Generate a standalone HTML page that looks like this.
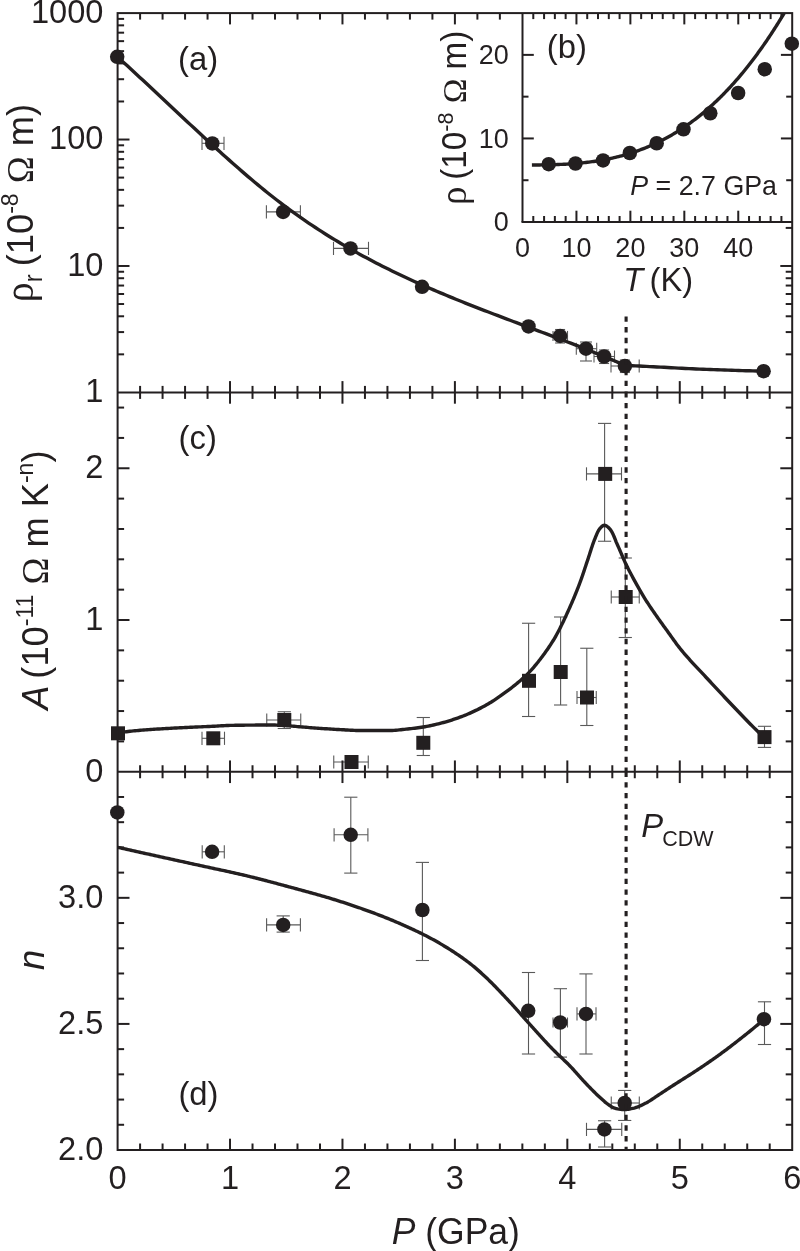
<!DOCTYPE html>
<html lang="en">
<head>
<meta charset="utf-8">
<title>Figure</title>
<style>html,body{margin:0;padding:0;background:#fff;}svg{display:block;}</style>
</head>
<body>
<svg width="800" height="1251" viewBox="0 0 800 1251" font-family="'Liberation Sans', Arial, Helvetica, sans-serif" fill="#231f20">
<rect x="0" y="0" width="800" height="1251" fill="#ffffff"/>
<line x1="202" y1="143.3" x2="224" y2="143.3" stroke="#595959" stroke-width="1.1"/>
<line x1="202" y1="136.7" x2="202" y2="149.9" stroke="#595959" stroke-width="1.1"/>
<line x1="224" y1="136.7" x2="224" y2="149.9" stroke="#595959" stroke-width="1.1"/>
<line x1="266.4" y1="211.9" x2="300.4" y2="211.9" stroke="#595959" stroke-width="1.1"/>
<line x1="266.4" y1="205.3" x2="266.4" y2="218.5" stroke="#595959" stroke-width="1.1"/>
<line x1="300.4" y1="205.3" x2="300.4" y2="218.5" stroke="#595959" stroke-width="1.1"/>
<line x1="333.5" y1="248.4" x2="368.5" y2="248.4" stroke="#595959" stroke-width="1.1"/>
<line x1="333.5" y1="241.8" x2="333.5" y2="255" stroke="#595959" stroke-width="1.1"/>
<line x1="368.5" y1="241.8" x2="368.5" y2="255" stroke="#595959" stroke-width="1.1"/>
<line x1="553" y1="335.9" x2="567.5" y2="335.9" stroke="#595959" stroke-width="1.1"/>
<line x1="553" y1="330.9" x2="553" y2="340.9" stroke="#595959" stroke-width="1.1"/>
<line x1="567.5" y1="330.9" x2="567.5" y2="340.9" stroke="#595959" stroke-width="1.1"/>
<line x1="560.1" y1="329.5" x2="560.1" y2="343" stroke="#595959" stroke-width="1.1"/>
<line x1="555.1" y1="329.5" x2="565.1" y2="329.5" stroke="#595959" stroke-width="1.1"/>
<line x1="555.1" y1="343" x2="565.1" y2="343" stroke="#595959" stroke-width="1.1"/>
<line x1="576.3" y1="348.7" x2="596.7" y2="348.7" stroke="#595959" stroke-width="1.1"/>
<line x1="576.3" y1="342.7" x2="576.3" y2="354.7" stroke="#595959" stroke-width="1.1"/>
<line x1="596.7" y1="342.7" x2="596.7" y2="354.7" stroke="#595959" stroke-width="1.1"/>
<line x1="586" y1="342" x2="586" y2="361" stroke="#595959" stroke-width="1.1"/>
<line x1="580" y1="342" x2="592" y2="342" stroke="#595959" stroke-width="1.1"/>
<line x1="580" y1="361" x2="592" y2="361" stroke="#595959" stroke-width="1.1"/>
<line x1="594" y1="356.5" x2="614.5" y2="356.5" stroke="#595959" stroke-width="1.1"/>
<line x1="594" y1="350.5" x2="594" y2="362.5" stroke="#595959" stroke-width="1.1"/>
<line x1="614.5" y1="350.5" x2="614.5" y2="362.5" stroke="#595959" stroke-width="1.1"/>
<line x1="604.1" y1="350" x2="604.1" y2="363.5" stroke="#595959" stroke-width="1.1"/>
<line x1="599.1" y1="350" x2="609.1" y2="350" stroke="#595959" stroke-width="1.1"/>
<line x1="599.1" y1="363.5" x2="609.1" y2="363.5" stroke="#595959" stroke-width="1.1"/>
<line x1="611" y1="366" x2="639.2" y2="366" stroke="#595959" stroke-width="1.1"/>
<line x1="611" y1="359.6" x2="611" y2="372.4" stroke="#595959" stroke-width="1.1"/>
<line x1="639.2" y1="359.6" x2="639.2" y2="372.4" stroke="#595959" stroke-width="1.1"/>
<line x1="624.9" y1="360" x2="624.9" y2="372.5" stroke="#595959" stroke-width="1.1"/>
<line x1="619.9" y1="360" x2="629.9" y2="360" stroke="#595959" stroke-width="1.1"/>
<line x1="619.9" y1="372.5" x2="629.9" y2="372.5" stroke="#595959" stroke-width="1.1"/>
<line x1="763.6" y1="366.5" x2="763.6" y2="376.5" stroke="#595959" stroke-width="1.1"/>
<line x1="758.6" y1="366.5" x2="768.6" y2="366.5" stroke="#595959" stroke-width="1.1"/>
<line x1="758.6" y1="376.5" x2="768.6" y2="376.5" stroke="#595959" stroke-width="1.1"/>
<path d="M117.5,56.81 L120.69,59.72 L123.88,62.64 L127.08,65.57 L130.27,68.51 L133.46,71.46 L136.65,74.42 L139.84,77.38 L143.03,80.35 L146.23,83.32 L149.42,86.3 L152.61,89.28 L155.8,92.27 L158.99,95.26 L162.19,98.25 L165.38,101.24 L168.57,104.23 L171.76,107.22 L174.95,110.21 L178.14,113.2 L181.34,116.18 L184.53,119.17 L187.72,122.14 L190.91,125.12 L194.1,128.08 L197.3,131.04 L200.49,134 L203.68,136.94 L206.87,139.88 L210.06,142.81 L213.25,145.72 L216.45,148.63 L219.64,151.53 L222.83,154.41 L226.02,157.27 L229.21,160.13 L232.41,162.96 L235.6,165.78 L238.79,168.57 L241.98,171.35 L245.17,174.11 L248.36,176.84 L251.56,179.55 L254.75,182.24 L257.94,184.9 L261.13,187.53 L264.32,190.13 L267.52,192.71 L270.71,195.25 L273.9,197.76 L277.09,200.24 L280.28,202.69 L283.47,205.1 L286.67,207.48 L289.86,209.83 L293.05,212.15 L296.24,214.44 L299.43,216.7 L302.63,218.93 L305.82,221.12 L309.01,223.29 L312.2,225.43 L315.39,227.54 L318.58,229.63 L321.78,231.68 L324.97,233.71 L328.16,235.72 L331.35,237.7 L334.54,239.65 L337.74,241.57 L340.93,243.48 L344.12,245.36 L347.31,247.21 L350.5,249.04 L353.69,250.85 L356.89,252.63 L360.08,254.4 L363.27,256.14 L366.46,257.86 L369.65,259.56 L372.85,261.24 L376.04,262.9 L379.23,264.54 L382.42,266.16 L385.61,267.76 L388.81,269.35 L392,270.92 L395.19,272.47 L398.38,274 L401.57,275.52 L404.76,277.02 L407.96,278.5 L411.15,279.97 L414.34,281.43 L417.53,282.87 L420.72,284.3 L423.92,285.71 L427.11,287.11 L430.3,288.5 L433.49,289.88 L436.68,291.24 L439.87,292.59 L443.07,293.93 L446.26,295.27 L449.45,296.59 L452.64,297.9 L455.83,299.2 L459.03,300.49 L462.22,301.77 L465.41,303.05 L468.6,304.32 L471.79,305.58 L474.98,306.83 L478.18,308.08 L481.37,309.32 L484.56,310.55 L487.75,311.78 L490.94,313.01 L494.14,314.23 L497.33,315.44 L500.52,316.65 L503.71,317.86 L506.9,319.07 L510.09,320.27 L513.29,321.47 L516.48,322.67 L519.67,323.87 L522.86,325.07 L526.05,326.27 L529.25,327.46 L532.44,328.66 L535.63,329.86 L538.82,331.06 L542.01,332.26 L545.2,333.46 L548.4,334.67 L551.59,335.88 L554.78,337.09 L557.97,338.31 L561.16,339.53 L564.36,340.75 L567.55,341.98 L570.74,343.21 L573.93,344.45 L577.12,345.7 L580.31,346.95 L583.51,348.21 L586.7,349.48 L589.89,350.75 L593.08,352.04 L596.27,353.33 L599.47,354.63 L602.66,355.94 L605.85,357.26 L609.04,358.59 L612.23,359.93 L615.42,361.28 L618.62,362.65 L621.81,364.02 L625,365.41 L628.55,365.57 L632.11,365.73 L635.66,365.89 L639.22,366.06 L642.77,366.23 L646.32,366.41 L649.88,366.58 L653.43,366.76 L656.98,366.95 L660.54,367.13 L664.09,367.32 L667.65,367.51 L671.2,367.71 L674.75,367.91 L678.31,368.11 L681.86,368.3 L685.42,368.48 L688.97,368.65 L692.52,368.81 L696.08,368.96 L699.63,369.11 L703.18,369.25 L706.74,369.38 L710.29,369.52 L713.85,369.65 L717.4,369.77 L720.95,369.9 L724.51,370.02 L728.06,370.14 L731.62,370.25 L735.17,370.37 L738.72,370.48 L742.28,370.59 L745.83,370.7 L749.38,370.81 L752.94,370.91 L756.49,371.01 L760.05,371.11 L763.6,371.2" fill="none" stroke="#231f20" stroke-width="3.4" stroke-linejoin="round"/>
<circle cx="117.2" cy="56.8" r="7.25" fill="#231f20"/>
<circle cx="212.3" cy="143.4" r="7.25" fill="#231f20"/>
<circle cx="283.1" cy="211.9" r="7.25" fill="#231f20"/>
<circle cx="350.5" cy="248.4" r="7.25" fill="#231f20"/>
<circle cx="422.1" cy="286.8" r="7.25" fill="#231f20"/>
<circle cx="528.5" cy="326.4" r="7.25" fill="#231f20"/>
<circle cx="560.1" cy="335.9" r="7.25" fill="#231f20"/>
<circle cx="586" cy="348.7" r="7.25" fill="#231f20"/>
<circle cx="604.1" cy="356.5" r="7.25" fill="#231f20"/>
<circle cx="624.9" cy="366" r="7.25" fill="#231f20"/>
<circle cx="763.6" cy="371.2" r="7.25" fill="#231f20"/>
<line x1="202" y1="738.3" x2="224.5" y2="738.3" stroke="#595959" stroke-width="1.1"/>
<line x1="202" y1="731.7" x2="202" y2="744.9" stroke="#595959" stroke-width="1.1"/>
<line x1="224.5" y1="731.7" x2="224.5" y2="744.9" stroke="#595959" stroke-width="1.1"/>
<line x1="266.75" y1="720" x2="300.75" y2="720" stroke="#595959" stroke-width="1.1"/>
<line x1="266.75" y1="713.4" x2="266.75" y2="726.6" stroke="#595959" stroke-width="1.1"/>
<line x1="300.75" y1="713.4" x2="300.75" y2="726.6" stroke="#595959" stroke-width="1.1"/>
<line x1="284.3" y1="711.75" x2="284.3" y2="728.5" stroke="#595959" stroke-width="1.1"/>
<line x1="277.7" y1="711.75" x2="290.9" y2="711.75" stroke="#595959" stroke-width="1.1"/>
<line x1="277.7" y1="728.5" x2="290.9" y2="728.5" stroke="#595959" stroke-width="1.1"/>
<line x1="333.75" y1="762" x2="368.25" y2="762" stroke="#595959" stroke-width="1.1"/>
<line x1="333.75" y1="755.4" x2="333.75" y2="768.6" stroke="#595959" stroke-width="1.1"/>
<line x1="368.25" y1="755.4" x2="368.25" y2="768.6" stroke="#595959" stroke-width="1.1"/>
<line x1="423.3" y1="717.5" x2="423.3" y2="755.5" stroke="#595959" stroke-width="1.1"/>
<line x1="416.7" y1="717.5" x2="429.9" y2="717.5" stroke="#595959" stroke-width="1.1"/>
<line x1="416.7" y1="755.5" x2="429.9" y2="755.5" stroke="#595959" stroke-width="1.1"/>
<line x1="528.6" y1="623.25" x2="528.6" y2="716.5" stroke="#595959" stroke-width="1.1"/>
<line x1="522" y1="623.25" x2="535.2" y2="623.25" stroke="#595959" stroke-width="1.1"/>
<line x1="522" y1="716.5" x2="535.2" y2="716.5" stroke="#595959" stroke-width="1.1"/>
<line x1="560.6" y1="617" x2="560.6" y2="705" stroke="#595959" stroke-width="1.1"/>
<line x1="554" y1="617" x2="567.2" y2="617" stroke="#595959" stroke-width="1.1"/>
<line x1="554" y1="705" x2="567.2" y2="705" stroke="#595959" stroke-width="1.1"/>
<line x1="586.8" y1="648.25" x2="586.8" y2="725.5" stroke="#595959" stroke-width="1.1"/>
<line x1="580.2" y1="648.25" x2="593.4" y2="648.25" stroke="#595959" stroke-width="1.1"/>
<line x1="580.2" y1="725.5" x2="593.4" y2="725.5" stroke="#595959" stroke-width="1.1"/>
<line x1="577" y1="697.5" x2="596.25" y2="697.5" stroke="#595959" stroke-width="1.1"/>
<line x1="577" y1="690.9" x2="577" y2="704.1" stroke="#595959" stroke-width="1.1"/>
<line x1="596.25" y1="690.9" x2="596.25" y2="704.1" stroke="#595959" stroke-width="1.1"/>
<line x1="604.6" y1="423.4" x2="604.6" y2="541.25" stroke="#595959" stroke-width="1.1"/>
<line x1="598" y1="423.4" x2="611.2" y2="423.4" stroke="#595959" stroke-width="1.1"/>
<line x1="598" y1="541.25" x2="611.2" y2="541.25" stroke="#595959" stroke-width="1.1"/>
<line x1="586.5" y1="473.9" x2="621.5" y2="473.9" stroke="#595959" stroke-width="1.1"/>
<line x1="586.5" y1="467.3" x2="586.5" y2="480.5" stroke="#595959" stroke-width="1.1"/>
<line x1="621.5" y1="467.3" x2="621.5" y2="480.5" stroke="#595959" stroke-width="1.1"/>
<line x1="625.3" y1="558" x2="625.3" y2="637.5" stroke="#595959" stroke-width="1.1"/>
<line x1="618.7" y1="558" x2="631.9" y2="558" stroke="#595959" stroke-width="1.1"/>
<line x1="618.7" y1="637.5" x2="631.9" y2="637.5" stroke="#595959" stroke-width="1.1"/>
<line x1="611.25" y1="597" x2="639.25" y2="597" stroke="#595959" stroke-width="1.1"/>
<line x1="611.25" y1="590.4" x2="611.25" y2="603.6" stroke="#595959" stroke-width="1.1"/>
<line x1="639.25" y1="590.4" x2="639.25" y2="603.6" stroke="#595959" stroke-width="1.1"/>
<line x1="764.5" y1="726.3" x2="764.5" y2="747.4" stroke="#595959" stroke-width="1.1"/>
<line x1="757.9" y1="726.3" x2="771.1" y2="726.3" stroke="#595959" stroke-width="1.1"/>
<line x1="757.9" y1="747.4" x2="771.1" y2="747.4" stroke="#595959" stroke-width="1.1"/>
<path d="M118,733.3 L119.69,732.92 L121.38,732.55 L123.08,732.21 L124.78,731.93 L126.49,731.71 L128.19,731.5 L129.91,731.3 L131.62,731.11 L133.34,730.93 L135.06,730.76 L136.78,730.6 L138.5,730.44 L140.23,730.29 L141.95,730.15 L143.68,730.01 L145.4,729.88 L147.13,729.76 L148.86,729.63 L150.59,729.51 L152.31,729.4 L154.04,729.28 L155.77,729.17 L157.5,729.06 L159.22,728.95 L160.94,728.84 L162.67,728.73 L164.39,728.63 L166.12,728.53 L167.84,728.43 L169.57,728.33 L171.3,728.23 L173.02,728.14 L174.75,728.05 L176.47,727.96 L178.2,727.87 L179.93,727.78 L181.65,727.7 L183.38,727.62 L185.11,727.53 L186.83,727.45 L188.56,727.37 L190.29,727.29 L192.01,727.21 L193.74,727.14 L195.47,727.06 L197.2,726.98 L198.92,726.9 L200.65,726.83 L202.38,726.75 L204.1,726.67 L205.83,726.59 L207.56,726.51 L209.29,726.43 L211.01,726.35 L212.74,726.27 L214.46,726.18 L216.19,726.08 L217.92,725.99 L219.64,725.9 L221.37,725.81 L223.1,725.72 L224.83,725.63 L226.55,725.56 L228.28,725.49 L230.01,725.42 L231.73,725.37 L233.46,725.33 L235.19,725.3 L236.92,725.27 L238.64,725.25 L240.37,725.23 L242.1,725.21 L243.83,725.18 L245.56,725.16 L247.29,725.15 L249.02,725.13 L250.74,725.11 L252.47,725.09 L254.2,725.08 L255.93,725.07 L257.66,725.05 L259.39,725.04 L261.12,725.03 L262.85,725.02 L264.58,725.02 L266.3,725.01 L268.03,725.01 L269.76,725 L271.49,725 L273.22,725 L274.94,725.04 L276.67,725.1 L278.4,725.19 L280.12,725.29 L281.85,725.4 L283.58,725.51 L285.3,725.62 L287.02,725.73 L288.75,725.86 L290.47,725.99 L292.19,726.14 L293.92,726.28 L295.64,726.43 L297.36,726.58 L299.08,726.73 L300.81,726.86 L302.53,727.01 L304.25,727.15 L305.98,727.29 L307.7,727.43 L309.42,727.57 L311.14,727.71 L312.87,727.84 L314.59,727.97 L316.32,728.09 L318.04,728.22 L319.76,728.34 L321.49,728.46 L323.21,728.58 L324.94,728.69 L326.66,728.81 L328.39,728.92 L330.11,729.03 L331.84,729.13 L333.56,729.24 L335.29,729.34 L337.02,729.44 L338.74,729.53 L340.47,729.62 L342.19,729.72 L343.92,729.82 L345.65,729.93 L347.37,730.03 L349.1,730.13 L350.83,730.23 L352.55,730.31 L354.28,730.38 L356.01,730.44 L357.73,730.48 L359.46,730.5 L361.19,730.5 L362.92,730.5 L364.65,730.5 L366.38,730.5 L368.11,730.5 L369.84,730.5 L371.57,730.5 L373.29,730.5 L375.02,730.5 L376.75,730.5 L378.48,730.5 L380.21,730.5 L381.94,730.5 L383.67,730.5 L385.4,730.5 L387.12,730.5 L388.85,730.5 L390.57,730.5 L392.3,730.46 L394.02,730.37 L395.75,730.25 L397.47,730.1 L399.19,729.93 L400.92,729.74 L402.64,729.54 L404.36,729.35 L406.08,729.15 L407.8,728.97 L409.51,728.79 L411.23,728.6 L412.95,728.4 L414.67,728.2 L416.39,727.98 L418.1,727.76 L419.82,727.52 L421.52,727.27 L423.23,727 L424.93,726.72 L426.63,726.41 L428.33,726.09 L430.02,725.74 L431.72,725.38 L433.41,725 L435.09,724.6 L436.78,724.2 L438.45,723.79 L440.13,723.37 L441.8,722.94 L443.47,722.49 L445.13,722.02 L446.8,721.54 L448.46,721.05 L450.11,720.54 L451.77,720.02 L453.41,719.48 L455.05,718.94 L456.69,718.38 L458.32,717.8 L459.94,717.22 L461.55,716.62 L463.16,716 L464.77,715.36 L466.37,714.7 L467.96,714.02 L469.55,713.32 L471.13,712.61 L472.7,711.89 L474.27,711.15 L475.83,710.41 L477.38,709.66 L478.93,708.89 L480.47,708.11 L482,707.31 L483.53,706.5 L485.05,705.67 L486.56,704.82 L488.07,703.96 L489.56,703.08 L491.04,702.19 L492.51,701.29 L493.97,700.37 L495.41,699.42 L496.84,698.46 L498.26,697.47 L499.68,696.47 L501.08,695.46 L502.48,694.44 L503.88,693.42 L505.27,692.4 L506.67,691.38 L508.06,690.35 L509.45,689.32 L510.83,688.28 L512.21,687.23 L513.58,686.17 L514.93,685.1 L516.28,684.01 L517.6,682.91 L518.93,681.8 L520.24,680.68 L521.55,679.54 L522.85,678.39 L524.14,677.23 L525.41,676.05 L526.66,674.86 L527.88,673.64 L529.08,672.41 L530.26,671.16 L531.43,669.89 L532.57,668.6 L533.71,667.3 L534.83,665.97 L535.94,664.64 L537.03,663.29 L538.11,661.94 L539.18,660.57 L540.24,659.2 L541.29,657.82 L542.32,656.44 L543.35,655.06 L544.37,653.66 L545.38,652.26 L546.38,650.85 L547.38,649.43 L548.36,648 L549.33,646.56 L550.29,645.12 L551.23,643.66 L552.16,642.2 L553.07,640.74 L553.97,639.26 L554.84,637.78 L555.69,636.29 L556.54,634.78 L557.36,633.27 L558.18,631.75 L558.98,630.22 L559.78,628.68 L560.56,627.14 L561.33,625.59 L562.1,624.03 L562.85,622.47 L563.6,620.91 L564.34,619.34 L565.07,617.77 L565.8,616.2 L566.52,614.63 L567.24,613.06 L567.96,611.49 L568.67,609.92 L569.38,608.34 L570.08,606.76 L570.77,605.18 L571.47,603.59 L572.15,602 L572.83,600.41 L573.51,598.82 L574.18,597.22 L574.84,595.62 L575.5,594.02 L576.15,592.42 L576.79,590.81 L577.43,589.21 L578.06,587.6 L578.68,585.99 L579.3,584.37 L579.9,582.76 L580.5,581.14 L581.09,579.51 L581.67,577.89 L582.23,576.25 L582.79,574.62 L583.34,572.98 L583.89,571.34 L584.44,569.7 L584.98,568.05 L585.52,566.41 L586.07,564.77 L586.61,563.13 L587.16,561.49 L587.72,559.85 L588.26,558.21 L588.8,556.56 L589.33,554.91 L589.85,553.26 L590.38,551.61 L590.91,549.96 L591.44,548.31 L591.99,546.67 L592.54,545.03 L593.12,543.4 L593.71,541.78 L594.32,540.18 L594.97,538.58 L595.62,536.96 L596.28,535.3 L596.98,533.64 L597.72,532.03 L598.53,530.51 L599.43,529.12 L600.48,527.86 L601.83,526.51 L603.34,525.47 L604.81,525.24 L606.35,525.87 L607.88,527.01 L609.21,528.29 L610.24,529.48 L611.17,530.79 L612.02,532.22 L612.81,533.75 L613.54,535.35 L614.24,537 L614.91,538.68 L615.57,540.37 L616.23,542.05 L616.92,543.69 L617.63,545.28 L618.34,546.85 L619.04,548.43 L619.73,550.02 L620.42,551.61 L621.09,553.2 L621.77,554.79 L622.45,556.38 L623.13,557.97 L623.83,559.56 L624.53,561.13 L625.25,562.7 L625.99,564.26 L626.75,565.81 L627.52,567.36 L628.29,568.9 L629.08,570.44 L629.88,571.98 L630.68,573.51 L631.5,575.04 L632.31,576.56 L633.14,578.08 L633.96,579.6 L634.79,581.12 L635.62,582.63 L636.46,584.15 L637.3,585.66 L638.15,587.17 L639,588.67 L639.86,590.17 L640.72,591.67 L641.6,593.16 L642.48,594.65 L643.37,596.13 L644.26,597.61 L645.17,599.08 L646.09,600.54 L647.02,601.99 L647.97,603.44 L648.92,604.88 L649.88,606.32 L650.85,607.75 L651.83,609.18 L652.8,610.61 L653.78,612.03 L654.76,613.46 L655.75,614.88 L656.73,616.3 L657.73,617.71 L658.73,619.12 L659.73,620.53 L660.74,621.94 L661.74,623.34 L662.76,624.74 L663.77,626.14 L664.78,627.54 L665.8,628.94 L666.81,630.34 L667.82,631.75 L668.83,633.15 L669.83,634.56 L670.83,635.97 L671.83,637.39 L672.84,638.8 L673.84,640.21 L674.85,641.61 L675.87,643.01 L676.9,644.4 L677.94,645.77 L679,647.14 L680.07,648.49 L681.15,649.82 L682.25,651.15 L683.35,652.47 L684.47,653.79 L685.6,655.1 L686.73,656.4 L687.87,657.69 L689.02,658.98 L690.18,660.27 L691.34,661.55 L692.51,662.82 L693.68,664.1 L694.86,665.37 L696.04,666.63 L697.22,667.9 L698.41,669.16 L699.6,670.42 L700.79,671.68 L701.98,672.94 L703.17,674.2 L704.35,675.46 L705.54,676.72 L706.72,677.98 L707.91,679.24 L709.08,680.51 L710.26,681.78 L711.43,683.05 L712.61,684.32 L713.78,685.59 L714.96,686.85 L716.13,688.12 L717.31,689.38 L718.49,690.65 L719.67,691.91 L720.85,693.18 L722.03,694.44 L723.21,695.7 L724.4,696.96 L725.58,698.22 L726.77,699.47 L727.96,700.73 L729.14,701.99 L730.34,703.24 L731.53,704.49 L732.72,705.74 L733.92,706.99 L735.11,708.24 L736.31,709.48 L737.51,710.73 L738.71,711.97 L739.9,713.22 L741.1,714.47 L742.29,715.72 L743.49,716.97 L744.69,718.22 L745.89,719.47 L747.09,720.72 L748.29,721.96 L749.5,723.2 L750.71,724.44 L751.92,725.67 L753.14,726.89 L754.37,728.11 L755.6,729.32 L756.84,730.53 L758.08,731.72 L759.34,732.91 L760.6,734.08 L761.88,735.24 L763.19,736.37 L764.5,737.5" fill="none" stroke="#231f20" stroke-width="3.4" stroke-linejoin="round" stroke-linecap="butt"/>
<rect x="111" y="726.3" width="14.0" height="14.0" fill="#231f20"/>
<rect x="206.3" y="731.3" width="14.0" height="14.0" fill="#231f20"/>
<rect x="277.3" y="713" width="14.0" height="14.0" fill="#231f20"/>
<rect x="344.5" y="755" width="14.0" height="14.0" fill="#231f20"/>
<rect x="416.3" y="735.8" width="14.0" height="14.0" fill="#231f20"/>
<rect x="522" y="673.8" width="14.0" height="14.0" fill="#231f20"/>
<rect x="553.7" y="665" width="14.0" height="14.0" fill="#231f20"/>
<rect x="580" y="690.5" width="14.0" height="14.0" fill="#231f20"/>
<rect x="598.2" y="466.9" width="14.0" height="14.0" fill="#231f20"/>
<rect x="618.7" y="590" width="14.0" height="14.0" fill="#231f20"/>
<rect x="757.5" y="730.1" width="14.0" height="14.0" fill="#231f20"/>
<line x1="202.2" y1="851.8" x2="224.3" y2="851.8" stroke="#595959" stroke-width="1.1"/>
<line x1="202.2" y1="845.2" x2="202.2" y2="858.4" stroke="#595959" stroke-width="1.1"/>
<line x1="224.3" y1="845.2" x2="224.3" y2="858.4" stroke="#595959" stroke-width="1.1"/>
<line x1="266.6" y1="924.9" x2="300.4" y2="924.9" stroke="#595959" stroke-width="1.1"/>
<line x1="266.6" y1="918.3" x2="266.6" y2="931.5" stroke="#595959" stroke-width="1.1"/>
<line x1="300.4" y1="918.3" x2="300.4" y2="931.5" stroke="#595959" stroke-width="1.1"/>
<line x1="283.2" y1="915.9" x2="283.2" y2="932.1" stroke="#595959" stroke-width="1.1"/>
<line x1="276.6" y1="915.9" x2="289.8" y2="915.9" stroke="#595959" stroke-width="1.1"/>
<line x1="276.6" y1="932.1" x2="289.8" y2="932.1" stroke="#595959" stroke-width="1.1"/>
<line x1="334.1" y1="834.8" x2="367.9" y2="834.8" stroke="#595959" stroke-width="1.1"/>
<line x1="334.1" y1="828.2" x2="334.1" y2="841.4" stroke="#595959" stroke-width="1.1"/>
<line x1="367.9" y1="828.2" x2="367.9" y2="841.4" stroke="#595959" stroke-width="1.1"/>
<line x1="350.8" y1="797.2" x2="350.8" y2="873.1" stroke="#595959" stroke-width="1.1"/>
<line x1="344.2" y1="797.2" x2="357.4" y2="797.2" stroke="#595959" stroke-width="1.1"/>
<line x1="344.2" y1="873.1" x2="357.4" y2="873.1" stroke="#595959" stroke-width="1.1"/>
<line x1="422.4" y1="862.4" x2="422.4" y2="960.5" stroke="#595959" stroke-width="1.1"/>
<line x1="415.8" y1="862.4" x2="429" y2="862.4" stroke="#595959" stroke-width="1.1"/>
<line x1="415.8" y1="960.5" x2="429" y2="960.5" stroke="#595959" stroke-width="1.1"/>
<line x1="528.5" y1="972.5" x2="528.5" y2="1054" stroke="#595959" stroke-width="1.1"/>
<line x1="521.9" y1="972.5" x2="535.1" y2="972.5" stroke="#595959" stroke-width="1.1"/>
<line x1="521.9" y1="1054" x2="535.1" y2="1054" stroke="#595959" stroke-width="1.1"/>
<line x1="560.4" y1="988.7" x2="560.4" y2="1057.1" stroke="#595959" stroke-width="1.1"/>
<line x1="553.8" y1="988.7" x2="567" y2="988.7" stroke="#595959" stroke-width="1.1"/>
<line x1="553.8" y1="1057.1" x2="567" y2="1057.1" stroke="#595959" stroke-width="1.1"/>
<line x1="553" y1="1022.5" x2="567.5" y2="1022.5" stroke="#595959" stroke-width="1.1"/>
<line x1="553" y1="1017.5" x2="553" y2="1027.5" stroke="#595959" stroke-width="1.1"/>
<line x1="567.5" y1="1017.5" x2="567.5" y2="1027.5" stroke="#595959" stroke-width="1.1"/>
<line x1="586" y1="973.9" x2="586" y2="1054" stroke="#595959" stroke-width="1.1"/>
<line x1="579.4" y1="973.9" x2="592.6" y2="973.9" stroke="#595959" stroke-width="1.1"/>
<line x1="579.4" y1="1054" x2="592.6" y2="1054" stroke="#595959" stroke-width="1.1"/>
<line x1="577" y1="1013.9" x2="596" y2="1013.9" stroke="#595959" stroke-width="1.1"/>
<line x1="577" y1="1007.3" x2="577" y2="1020.5" stroke="#595959" stroke-width="1.1"/>
<line x1="596" y1="1007.3" x2="596" y2="1020.5" stroke="#595959" stroke-width="1.1"/>
<line x1="586.5" y1="1129.4" x2="621.75" y2="1129.4" stroke="#595959" stroke-width="1.1"/>
<line x1="586.5" y1="1122.8" x2="586.5" y2="1136" stroke="#595959" stroke-width="1.1"/>
<line x1="621.75" y1="1122.8" x2="621.75" y2="1136" stroke="#595959" stroke-width="1.1"/>
<line x1="604.6" y1="1120.75" x2="604.6" y2="1147" stroke="#595959" stroke-width="1.1"/>
<line x1="598" y1="1120.75" x2="611.2" y2="1120.75" stroke="#595959" stroke-width="1.1"/>
<line x1="598" y1="1147" x2="611.2" y2="1147" stroke="#595959" stroke-width="1.1"/>
<line x1="624.7" y1="1090.45" x2="624.7" y2="1120.45" stroke="#595959" stroke-width="1.1"/>
<line x1="618.1" y1="1090.45" x2="631.3" y2="1090.45" stroke="#595959" stroke-width="1.1"/>
<line x1="618.1" y1="1120.45" x2="631.3" y2="1120.45" stroke="#595959" stroke-width="1.1"/>
<line x1="611.25" y1="1103" x2="639.3" y2="1103" stroke="#595959" stroke-width="1.1"/>
<line x1="611.25" y1="1096.4" x2="611.25" y2="1109.6" stroke="#595959" stroke-width="1.1"/>
<line x1="639.3" y1="1096.4" x2="639.3" y2="1109.6" stroke="#595959" stroke-width="1.1"/>
<line x1="764.5" y1="1001.8" x2="764.5" y2="1044.5" stroke="#595959" stroke-width="1.1"/>
<line x1="757.9" y1="1001.8" x2="771.1" y2="1001.8" stroke="#595959" stroke-width="1.1"/>
<line x1="757.9" y1="1044.5" x2="771.1" y2="1044.5" stroke="#595959" stroke-width="1.1"/>
<path d="M117.6,847.3 L119.08,847.63 L120.56,847.96 L122.04,848.29 L123.52,848.62 L124.99,848.95 L126.47,849.28 L127.95,849.6 L129.43,849.93 L130.91,850.26 L132.39,850.59 L133.87,850.92 L135.35,851.25 L136.83,851.58 L138.31,851.9 L139.78,852.23 L141.26,852.56 L142.74,852.89 L144.22,853.22 L145.7,853.54 L147.18,853.87 L148.66,854.2 L150.14,854.53 L151.62,854.85 L153.1,855.18 L154.58,855.51 L156.06,855.83 L157.54,856.16 L159.02,856.49 L160.5,856.81 L161.97,857.14 L163.45,857.47 L164.93,857.79 L166.41,858.12 L167.89,858.44 L169.37,858.77 L170.85,859.09 L172.33,859.42 L173.81,859.74 L175.29,860.07 L176.77,860.4 L178.25,860.72 L179.73,861.05 L181.21,861.37 L182.69,861.7 L184.17,862.02 L185.65,862.35 L187.13,862.67 L188.61,863 L190.09,863.32 L191.57,863.65 L193.05,863.97 L194.53,864.3 L196.01,864.62 L197.49,864.95 L198.97,865.27 L200.45,865.6 L201.93,865.92 L203.41,866.25 L204.89,866.57 L206.37,866.89 L207.85,867.21 L209.33,867.53 L210.81,867.84 L212.3,868.16 L213.78,868.48 L215.26,868.79 L216.74,869.11 L218.22,869.43 L219.71,869.75 L221.19,870.06 L222.67,870.38 L224.15,870.7 L225.63,871.02 L227.11,871.35 L228.59,871.67 L230.07,871.99 L231.55,872.32 L233.03,872.65 L234.51,872.98 L235.99,873.31 L237.46,873.65 L238.94,873.98 L240.42,874.32 L241.89,874.67 L243.37,875.01 L244.84,875.36 L246.31,875.71 L247.78,876.07 L249.26,876.43 L250.73,876.79 L252.2,877.15 L253.67,877.52 L255.14,877.89 L256.61,878.26 L258.07,878.63 L259.54,879 L261.01,879.38 L262.48,879.76 L263.94,880.14 L265.41,880.52 L266.88,880.9 L268.34,881.29 L269.81,881.68 L271.27,882.06 L272.74,882.45 L274.2,882.84 L275.67,883.23 L277.13,883.63 L278.59,884.02 L280.06,884.41 L281.52,884.81 L282.98,885.2 L284.45,885.6 L285.91,885.99 L287.37,886.39 L288.83,886.78 L290.3,887.18 L291.76,887.58 L293.22,887.97 L294.68,888.37 L296.15,888.76 L297.61,889.16 L299.07,889.55 L300.54,889.95 L302,890.34 L303.46,890.74 L304.93,891.14 L306.39,891.54 L307.85,891.94 L309.31,892.34 L310.77,892.74 L312.23,893.15 L313.69,893.56 L315.15,893.96 L316.61,894.37 L318.07,894.79 L319.53,895.2 L320.99,895.62 L322.44,896.04 L323.9,896.46 L325.35,896.89 L326.8,897.31 L328.25,897.74 L329.7,898.18 L331.15,898.62 L332.6,899.06 L334.05,899.5 L335.49,899.95 L336.94,900.41 L338.38,900.86 L339.83,901.32 L341.27,901.78 L342.71,902.24 L344.15,902.71 L345.6,903.17 L347.04,903.65 L348.48,904.12 L349.92,904.6 L351.36,905.08 L352.79,905.56 L354.23,906.05 L355.67,906.54 L357.1,907.03 L358.54,907.52 L359.97,908.02 L361.4,908.52 L362.83,909.03 L364.26,909.54 L365.69,910.05 L367.11,910.56 L368.54,911.08 L369.96,911.6 L371.38,912.13 L372.8,912.65 L374.22,913.19 L375.63,913.72 L377.05,914.26 L378.46,914.8 L379.87,915.35 L381.28,915.9 L382.68,916.45 L384.09,917.01 L385.5,917.57 L386.9,918.14 L388.31,918.7 L389.71,919.28 L391.11,919.85 L392.51,920.44 L393.91,921.02 L395.31,921.61 L396.71,922.2 L398.1,922.8 L399.5,923.4 L400.89,924.01 L402.28,924.61 L403.67,925.23 L405.06,925.84 L406.44,926.47 L407.83,927.09 L409.21,927.72 L410.59,928.35 L411.96,928.99 L413.34,929.63 L414.71,930.28 L416.08,930.93 L417.44,931.58 L418.81,932.24 L420.17,932.9 L421.52,933.57 L422.88,934.24 L424.23,934.91 L425.58,935.59 L426.93,936.28 L428.27,936.98 L429.61,937.68 L430.95,938.4 L432.28,939.12 L433.61,939.85 L434.94,940.58 L436.26,941.33 L437.58,942.08 L438.9,942.83 L440.21,943.6 L441.52,944.37 L442.82,945.14 L444.12,945.92 L445.41,946.71 L446.7,947.5 L447.98,948.3 L449.26,949.1 L450.54,949.91 L451.82,950.73 L453.09,951.55 L454.37,952.38 L455.63,953.22 L456.89,954.06 L458.15,954.92 L459.41,955.77 L460.66,956.64 L461.9,957.51 L463.14,958.39 L464.37,959.28 L465.59,960.17 L466.81,961.07 L468.01,961.98 L469.22,962.89 L470.41,963.82 L471.59,964.75 L472.77,965.7 L473.94,966.67 L475.1,967.64 L476.26,968.62 L477.41,969.62 L478.55,970.62 L479.68,971.63 L480.81,972.64 L481.93,973.66 L483.05,974.69 L484.16,975.72 L485.27,976.75 L486.37,977.79 L487.46,978.83 L488.55,979.88 L489.63,980.94 L490.71,982.01 L491.78,983.07 L492.85,984.15 L493.92,985.23 L494.98,986.31 L496.03,987.4 L497.09,988.49 L498.14,989.58 L499.19,990.68 L500.23,991.78 L501.28,992.88 L502.32,993.98 L503.36,995.09 L504.4,996.19 L505.43,997.3 L506.47,998.4 L507.51,999.51 L508.54,1000.61 L509.57,1001.72 L510.59,1002.84 L511.61,1003.96 L512.63,1005.08 L513.65,1006.2 L514.66,1007.33 L515.67,1008.46 L516.68,1009.59 L517.69,1010.72 L518.69,1011.86 L519.7,1012.99 L520.7,1014.12 L521.71,1015.26 L522.72,1016.39 L523.73,1017.52 L524.73,1018.65 L525.75,1019.78 L526.76,1020.91 L527.77,1022.03 L528.79,1023.15 L529.81,1024.28 L530.82,1025.4 L531.84,1026.53 L532.85,1027.65 L533.87,1028.78 L534.88,1029.91 L535.89,1031.04 L536.9,1032.17 L537.92,1033.29 L538.93,1034.42 L539.95,1035.54 L540.97,1036.67 L541.99,1037.79 L543.01,1038.91 L544.03,1040.03 L545.06,1041.14 L546.09,1042.25 L547.12,1043.36 L548.16,1044.46 L549.2,1045.56 L550.24,1046.66 L551.29,1047.75 L552.34,1048.84 L553.4,1049.92 L554.47,1050.99 L555.55,1052.05 L556.64,1053.1 L557.74,1054.15 L558.83,1055.2 L559.94,1056.24 L561.04,1057.28 L562.14,1058.32 L563.24,1059.37 L564.34,1060.41 L565.44,1061.46 L566.52,1062.51 L567.6,1063.58 L568.67,1064.65 L569.73,1065.73 L570.78,1066.82 L571.82,1067.92 L572.85,1069.03 L573.87,1070.15 L574.88,1071.28 L575.89,1072.41 L576.9,1073.54 L577.9,1074.68 L578.91,1075.81 L579.91,1076.95 L580.92,1078.08 L581.94,1079.2 L582.96,1080.32 L583.99,1081.43 L585.03,1082.53 L586.08,1083.63 L587.12,1084.72 L588.17,1085.82 L589.22,1086.91 L590.28,1088.01 L591.34,1089.09 L592.4,1090.18 L593.47,1091.25 L594.54,1092.32 L595.62,1093.38 L596.71,1094.44 L597.81,1095.48 L598.92,1096.51 L600.03,1097.53 L601.15,1098.55 L602.28,1099.57 L603.42,1100.59 L604.56,1101.6 L605.73,1102.57 L606.92,1103.51 L608.13,1104.41 L609.37,1105.25 L610.65,1106.11 L611.96,1106.95 L613.31,1107.68 L614.69,1108.22 L616.11,1108.56 L617.58,1108.88 L619.09,1109.15 L620.61,1109.37 L622.14,1109.53 L623.66,1109.6 L625.17,1109.57 L626.68,1109.44 L628.19,1109.23 L629.7,1108.97 L631.19,1108.68 L632.67,1108.37 L634.12,1108.04 L635.56,1107.62 L637,1107.12 L638.42,1106.57 L639.83,1105.97 L641.23,1105.33 L642.61,1104.67 L643.98,1104 L645.32,1103.34 L646.65,1102.65 L647.97,1101.91 L649.26,1101.14 L650.55,1100.33 L651.82,1099.51 L653.09,1098.66 L654.35,1097.81 L655.61,1096.94 L656.86,1096.08 L658.13,1095.23 L659.39,1094.39 L660.67,1093.57 L661.94,1092.75 L663.21,1091.92 L664.48,1091.09 L665.74,1090.26 L667.01,1089.43 L668.27,1088.6 L669.54,1087.76 L670.81,1086.93 L672.07,1086.1 L673.34,1085.27 L674.61,1084.45 L675.89,1083.63 L677.16,1082.81 L678.44,1082 L679.72,1081.19 L681,1080.38 L682.29,1079.57 L683.57,1078.76 L684.85,1077.96 L686.13,1077.15 L687.42,1076.34 L688.7,1075.53 L689.98,1074.72 L691.25,1073.91 L692.53,1073.09 L693.8,1072.27 L695.07,1071.44 L696.34,1070.61 L697.6,1069.77 L698.86,1068.93 L700.12,1068.09 L701.38,1067.25 L702.64,1066.4 L703.89,1065.55 L705.15,1064.7 L706.4,1063.85 L707.65,1062.99 L708.9,1062.13 L710.14,1061.27 L711.39,1060.4 L712.63,1059.54 L713.87,1058.66 L715.11,1057.79 L716.34,1056.91 L717.57,1056.03 L718.8,1055.14 L720.03,1054.26 L721.25,1053.36 L722.47,1052.47 L723.69,1051.57 L724.9,1050.66 L726.12,1049.76 L727.33,1048.85 L728.54,1047.93 L729.75,1047.02 L730.95,1046.1 L732.16,1045.18 L733.36,1044.25 L734.56,1043.33 L735.75,1042.4 L736.95,1041.47 L738.14,1040.53 L739.34,1039.6 L740.53,1038.66 L741.72,1037.73 L742.91,1036.79 L744.09,1035.85 L745.28,1034.9 L746.46,1033.96 L747.64,1033.01 L748.82,1032.06 L750,1031.11 L751.18,1030.15 L752.35,1029.19 L753.52,1028.24 L754.7,1027.27 L755.86,1026.31 L757.03,1025.34 L758.2,1024.38 L759.36,1023.4 L760.52,1022.43 L761.68,1021.46 L762.84,1020.48 L764,1019.5" fill="none" stroke="#231f20" stroke-width="3.4" stroke-linejoin="round" stroke-linecap="butt"/>
<circle cx="117.3" cy="812.4" r="7.25" fill="#231f20"/>
<circle cx="212.1" cy="851.8" r="7.25" fill="#231f20"/>
<circle cx="283.2" cy="924.9" r="7.25" fill="#231f20"/>
<circle cx="350.7" cy="834.8" r="7.25" fill="#231f20"/>
<circle cx="422.4" cy="910" r="7.25" fill="#231f20"/>
<circle cx="528.2" cy="1010.8" r="7.25" fill="#231f20"/>
<circle cx="560.2" cy="1022.5" r="7.25" fill="#231f20"/>
<circle cx="586" cy="1013.9" r="7.25" fill="#231f20"/>
<circle cx="604.4" cy="1129.4" r="7.25" fill="#231f20"/>
<circle cx="624.7" cy="1103" r="7.25" fill="#231f20"/>
<circle cx="763.95" cy="1019.2" r="7.25" fill="#231f20"/>
<line x1="626.1" y1="316.4" x2="626.1" y2="392.4" stroke="#231f20" stroke-width="3.1" stroke-dasharray="5.3 5.42"/>
<line x1="626.1" y1="392.3" x2="626.1" y2="771.75" stroke="#231f20" stroke-width="3.1" stroke-dasharray="5.3 5.42"/>
<line x1="626.1" y1="771.6" x2="626.1" y2="1150.0" stroke="#231f20" stroke-width="3.1" stroke-dasharray="5.3 5.42"/>
<rect x="522.5" y="13.1" width="269.7" height="208.9" fill="#ffffff"/>
<clipPath id="ic"><rect x="522.5" y="13.1" width="269.7" height="208.9"/></clipPath>
<g clip-path="url(#ic)">
<path d="M531.9,164.99 L533.49,164.98 L535.08,164.98 L536.66,164.97 L538.25,164.95 L539.84,164.94 L541.43,164.92 L543.02,164.9 L544.6,164.88 L546.19,164.85 L547.78,164.82 L549.37,164.79 L550.96,164.75 L552.54,164.71 L554.13,164.66 L555.72,164.61 L557.3,164.55 L558.89,164.49 L560.48,164.42 L562.06,164.35 L563.65,164.27 L565.24,164.19 L566.82,164.1 L568.41,164 L569.99,163.9 L571.58,163.79 L573.16,163.67 L574.74,163.55 L576.33,163.42 L577.91,163.28 L579.49,163.14 L581.07,162.98 L582.65,162.82 L584.23,162.65 L585.81,162.48 L587.39,162.29 L588.96,162.1 L590.54,161.89 L592.11,161.68 L593.68,161.46 L595.25,161.23 L596.82,160.99 L598.39,160.74 L599.96,160.48 L601.52,160.21 L603.09,159.93 L604.65,159.64 L606.21,159.34 L607.77,159.04 L609.32,158.72 L610.88,158.39 L612.43,158.05 L613.98,157.69 L615.52,157.33 L617.07,156.96 L618.61,156.57 L620.15,156.18 L621.68,155.77 L623.21,155.36 L624.74,154.93 L626.27,154.49 L627.79,154.03 L629.31,153.57 L630.83,153.1 L632.34,152.61 L633.85,152.11 L635.35,151.6 L636.85,151.08 L638.35,150.55 L639.84,150.01 L641.33,149.45 L642.81,148.89 L644.29,148.31 L645.76,147.72 L647.23,147.12 L648.7,146.5 L650.16,145.88 L651.61,145.24 L653.06,144.59 L654.51,143.94 L655.95,143.27 L657.38,142.58 L658.81,141.89 L660.24,141.19 L661.65,140.47 L663.07,139.75 L664.47,139.01 L665.87,138.26 L667.27,137.5 L668.66,136.74 L670.04,135.96 L671.42,135.17 L672.79,134.37 L674.16,133.56 L675.52,132.73 L676.87,131.9 L678.22,131.06 L679.56,130.21 L680.89,129.35 L682.22,128.48 L683.55,127.6 L684.86,126.71 L686.17,125.82 L687.47,124.91 L688.77,123.99 L690.06,123.07 L691.35,122.13 L692.62,121.19 L693.89,120.24 L695.16,119.28 L696.42,118.31 L697.67,117.33 L698.92,116.34 L700.15,115.35 L701.39,114.35 L702.61,113.34 L703.83,112.32 L705.05,111.3 L706.26,110.27 L707.46,109.23 L708.65,108.18 L709.84,107.13 L711.02,106.07 L712.2,105 L713.37,103.93 L714.53,102.85 L715.69,101.76 L716.84,100.66 L717.98,99.56 L719.12,98.46 L720.26,97.34 L721.38,96.23 L722.5,95.1 L723.62,93.97 L724.73,92.83 L725.83,91.69 L726.93,90.54 L728.02,89.39 L729.11,88.23 L730.19,87.07 L731.26,85.9 L732.33,84.72 L733.39,83.54 L734.45,82.36 L735.5,81.17 L736.55,79.97 L737.59,78.77 L738.62,77.57 L739.65,76.36 L740.68,75.15 L741.7,73.93 L742.71,72.71 L743.72,71.48 L744.73,70.25 L745.72,69.02 L746.72,67.78 L747.71,66.53 L748.69,65.29 L749.67,64.04 L750.64,62.78 L751.61,61.52 L752.58,60.26 L753.54,59 L754.49,57.73 L755.44,56.45 L756.39,55.18 L757.33,53.9 L758.26,52.61 L759.19,51.33 L760.12,50.04 L761.04,48.75 L761.96,47.45 L762.87,46.15 L763.78,44.85 L764.69,43.54 L765.59,42.23 L766.48,40.92 L767.38,39.61 L768.26,38.29 L769.15,36.97 L770.03,35.65 L770.9,34.33 L771.77,33 L772.64,31.67 L773.5,30.33 L774.36,29 L775.22,27.66 L776.07,26.32 L776.92,24.98 L777.76,23.63 L778.6,22.28 L779.44,20.94 L780.27,19.58 L781.1,18.23 L781.93,16.87 L782.75,15.51 L783.57,14.15 L784.38,12.79 L785.19,11.42 L786,10.06" fill="none" stroke="#231f20" stroke-width="3.4" stroke-linejoin="round" stroke-linecap="butt"/>
</g>
<circle cx="548.7" cy="164.2" r="7.25" fill="#231f20"/>
<circle cx="575.5" cy="163.5" r="7.25" fill="#231f20"/>
<circle cx="603.05" cy="160.4" r="7.25" fill="#231f20"/>
<circle cx="629.8" cy="153" r="7.25" fill="#231f20"/>
<circle cx="656.7" cy="143.25" r="7.25" fill="#231f20"/>
<circle cx="683.5" cy="129.3" r="7.25" fill="#231f20"/>
<circle cx="710.3" cy="113.25" r="7.25" fill="#231f20"/>
<circle cx="738.15" cy="93" r="7.25" fill="#231f20"/>
<circle cx="764.75" cy="69.2" r="7.25" fill="#231f20"/>
<circle cx="791.8" cy="43.7" r="7.25" fill="#231f20"/>
<rect x="117.6" y="13.1" width="674.6" height="1136.9" fill="none" stroke="#231f20" stroke-width="2.0"/>
<line x1="117.6" y1="392.4" x2="792.2" y2="392.4" stroke="#231f20" stroke-width="2.0"/>
<line x1="117.6" y1="771.75" x2="792.2" y2="771.75" stroke="#231f20" stroke-width="2.0"/>
<line x1="522.5" y1="13.1" x2="522.5" y2="222" stroke="#231f20" stroke-width="2.0"/>
<line x1="521.5" y1="222" x2="792.2" y2="222" stroke="#231f20" stroke-width="2.0"/>
<line x1="140.09" y1="13.1" x2="140.09" y2="19.6" stroke="#231f20" stroke-width="2.0"/>
<line x1="140.09" y1="385.9" x2="140.09" y2="398.9" stroke="#231f20" stroke-width="2.0"/>
<line x1="140.09" y1="765.25" x2="140.09" y2="778.25" stroke="#231f20" stroke-width="2.0"/>
<line x1="140.09" y1="1143.5" x2="140.09" y2="1150" stroke="#231f20" stroke-width="2.0"/>
<line x1="162.57" y1="13.1" x2="162.57" y2="19.6" stroke="#231f20" stroke-width="2.0"/>
<line x1="162.57" y1="385.9" x2="162.57" y2="398.9" stroke="#231f20" stroke-width="2.0"/>
<line x1="162.57" y1="765.25" x2="162.57" y2="778.25" stroke="#231f20" stroke-width="2.0"/>
<line x1="162.57" y1="1143.5" x2="162.57" y2="1150" stroke="#231f20" stroke-width="2.0"/>
<line x1="185.06" y1="13.1" x2="185.06" y2="19.6" stroke="#231f20" stroke-width="2.0"/>
<line x1="185.06" y1="385.9" x2="185.06" y2="398.9" stroke="#231f20" stroke-width="2.0"/>
<line x1="185.06" y1="765.25" x2="185.06" y2="778.25" stroke="#231f20" stroke-width="2.0"/>
<line x1="185.06" y1="1143.5" x2="185.06" y2="1150" stroke="#231f20" stroke-width="2.0"/>
<line x1="207.55" y1="13.1" x2="207.55" y2="19.6" stroke="#231f20" stroke-width="2.0"/>
<line x1="207.55" y1="385.9" x2="207.55" y2="398.9" stroke="#231f20" stroke-width="2.0"/>
<line x1="207.55" y1="765.25" x2="207.55" y2="778.25" stroke="#231f20" stroke-width="2.0"/>
<line x1="207.55" y1="1143.5" x2="207.55" y2="1150" stroke="#231f20" stroke-width="2.0"/>
<line x1="230.03" y1="13.1" x2="230.03" y2="24.4" stroke="#231f20" stroke-width="2.0"/>
<line x1="230.03" y1="381.1" x2="230.03" y2="403.7" stroke="#231f20" stroke-width="2.0"/>
<line x1="230.03" y1="760.45" x2="230.03" y2="783.05" stroke="#231f20" stroke-width="2.0"/>
<line x1="230.03" y1="1138.7" x2="230.03" y2="1150" stroke="#231f20" stroke-width="2.0"/>
<line x1="252.52" y1="13.1" x2="252.52" y2="19.6" stroke="#231f20" stroke-width="2.0"/>
<line x1="252.52" y1="385.9" x2="252.52" y2="398.9" stroke="#231f20" stroke-width="2.0"/>
<line x1="252.52" y1="765.25" x2="252.52" y2="778.25" stroke="#231f20" stroke-width="2.0"/>
<line x1="252.52" y1="1143.5" x2="252.52" y2="1150" stroke="#231f20" stroke-width="2.0"/>
<line x1="275.01" y1="13.1" x2="275.01" y2="19.6" stroke="#231f20" stroke-width="2.0"/>
<line x1="275.01" y1="385.9" x2="275.01" y2="398.9" stroke="#231f20" stroke-width="2.0"/>
<line x1="275.01" y1="765.25" x2="275.01" y2="778.25" stroke="#231f20" stroke-width="2.0"/>
<line x1="275.01" y1="1143.5" x2="275.01" y2="1150" stroke="#231f20" stroke-width="2.0"/>
<line x1="297.49" y1="13.1" x2="297.49" y2="19.6" stroke="#231f20" stroke-width="2.0"/>
<line x1="297.49" y1="385.9" x2="297.49" y2="398.9" stroke="#231f20" stroke-width="2.0"/>
<line x1="297.49" y1="765.25" x2="297.49" y2="778.25" stroke="#231f20" stroke-width="2.0"/>
<line x1="297.49" y1="1143.5" x2="297.49" y2="1150" stroke="#231f20" stroke-width="2.0"/>
<line x1="319.98" y1="13.1" x2="319.98" y2="19.6" stroke="#231f20" stroke-width="2.0"/>
<line x1="319.98" y1="385.9" x2="319.98" y2="398.9" stroke="#231f20" stroke-width="2.0"/>
<line x1="319.98" y1="765.25" x2="319.98" y2="778.25" stroke="#231f20" stroke-width="2.0"/>
<line x1="319.98" y1="1143.5" x2="319.98" y2="1150" stroke="#231f20" stroke-width="2.0"/>
<line x1="342.47" y1="13.1" x2="342.47" y2="24.4" stroke="#231f20" stroke-width="2.0"/>
<line x1="342.47" y1="381.1" x2="342.47" y2="403.7" stroke="#231f20" stroke-width="2.0"/>
<line x1="342.47" y1="760.45" x2="342.47" y2="783.05" stroke="#231f20" stroke-width="2.0"/>
<line x1="342.47" y1="1138.7" x2="342.47" y2="1150" stroke="#231f20" stroke-width="2.0"/>
<line x1="364.95" y1="13.1" x2="364.95" y2="19.6" stroke="#231f20" stroke-width="2.0"/>
<line x1="364.95" y1="385.9" x2="364.95" y2="398.9" stroke="#231f20" stroke-width="2.0"/>
<line x1="364.95" y1="765.25" x2="364.95" y2="778.25" stroke="#231f20" stroke-width="2.0"/>
<line x1="364.95" y1="1143.5" x2="364.95" y2="1150" stroke="#231f20" stroke-width="2.0"/>
<line x1="387.44" y1="13.1" x2="387.44" y2="19.6" stroke="#231f20" stroke-width="2.0"/>
<line x1="387.44" y1="385.9" x2="387.44" y2="398.9" stroke="#231f20" stroke-width="2.0"/>
<line x1="387.44" y1="765.25" x2="387.44" y2="778.25" stroke="#231f20" stroke-width="2.0"/>
<line x1="387.44" y1="1143.5" x2="387.44" y2="1150" stroke="#231f20" stroke-width="2.0"/>
<line x1="409.93" y1="13.1" x2="409.93" y2="19.6" stroke="#231f20" stroke-width="2.0"/>
<line x1="409.93" y1="385.9" x2="409.93" y2="398.9" stroke="#231f20" stroke-width="2.0"/>
<line x1="409.93" y1="765.25" x2="409.93" y2="778.25" stroke="#231f20" stroke-width="2.0"/>
<line x1="409.93" y1="1143.5" x2="409.93" y2="1150" stroke="#231f20" stroke-width="2.0"/>
<line x1="432.41" y1="13.1" x2="432.41" y2="19.6" stroke="#231f20" stroke-width="2.0"/>
<line x1="432.41" y1="385.9" x2="432.41" y2="398.9" stroke="#231f20" stroke-width="2.0"/>
<line x1="432.41" y1="765.25" x2="432.41" y2="778.25" stroke="#231f20" stroke-width="2.0"/>
<line x1="432.41" y1="1143.5" x2="432.41" y2="1150" stroke="#231f20" stroke-width="2.0"/>
<line x1="454.9" y1="13.1" x2="454.9" y2="24.4" stroke="#231f20" stroke-width="2.0"/>
<line x1="454.9" y1="381.1" x2="454.9" y2="403.7" stroke="#231f20" stroke-width="2.0"/>
<line x1="454.9" y1="760.45" x2="454.9" y2="783.05" stroke="#231f20" stroke-width="2.0"/>
<line x1="454.9" y1="1138.7" x2="454.9" y2="1150" stroke="#231f20" stroke-width="2.0"/>
<line x1="477.39" y1="13.1" x2="477.39" y2="19.6" stroke="#231f20" stroke-width="2.0"/>
<line x1="477.39" y1="385.9" x2="477.39" y2="398.9" stroke="#231f20" stroke-width="2.0"/>
<line x1="477.39" y1="765.25" x2="477.39" y2="778.25" stroke="#231f20" stroke-width="2.0"/>
<line x1="477.39" y1="1143.5" x2="477.39" y2="1150" stroke="#231f20" stroke-width="2.0"/>
<line x1="499.87" y1="13.1" x2="499.87" y2="19.6" stroke="#231f20" stroke-width="2.0"/>
<line x1="499.87" y1="385.9" x2="499.87" y2="398.9" stroke="#231f20" stroke-width="2.0"/>
<line x1="499.87" y1="765.25" x2="499.87" y2="778.25" stroke="#231f20" stroke-width="2.0"/>
<line x1="499.87" y1="1143.5" x2="499.87" y2="1150" stroke="#231f20" stroke-width="2.0"/>
<line x1="522.36" y1="385.9" x2="522.36" y2="398.9" stroke="#231f20" stroke-width="2.0"/>
<line x1="522.36" y1="765.25" x2="522.36" y2="778.25" stroke="#231f20" stroke-width="2.0"/>
<line x1="522.36" y1="1143.5" x2="522.36" y2="1150" stroke="#231f20" stroke-width="2.0"/>
<line x1="544.85" y1="385.9" x2="544.85" y2="398.9" stroke="#231f20" stroke-width="2.0"/>
<line x1="544.85" y1="765.25" x2="544.85" y2="778.25" stroke="#231f20" stroke-width="2.0"/>
<line x1="544.85" y1="1143.5" x2="544.85" y2="1150" stroke="#231f20" stroke-width="2.0"/>
<line x1="567.33" y1="381.1" x2="567.33" y2="403.7" stroke="#231f20" stroke-width="2.0"/>
<line x1="567.33" y1="760.45" x2="567.33" y2="783.05" stroke="#231f20" stroke-width="2.0"/>
<line x1="567.33" y1="1138.7" x2="567.33" y2="1150" stroke="#231f20" stroke-width="2.0"/>
<line x1="589.82" y1="385.9" x2="589.82" y2="398.9" stroke="#231f20" stroke-width="2.0"/>
<line x1="589.82" y1="765.25" x2="589.82" y2="778.25" stroke="#231f20" stroke-width="2.0"/>
<line x1="589.82" y1="1143.5" x2="589.82" y2="1150" stroke="#231f20" stroke-width="2.0"/>
<line x1="612.31" y1="385.9" x2="612.31" y2="398.9" stroke="#231f20" stroke-width="2.0"/>
<line x1="612.31" y1="765.25" x2="612.31" y2="778.25" stroke="#231f20" stroke-width="2.0"/>
<line x1="612.31" y1="1143.5" x2="612.31" y2="1150" stroke="#231f20" stroke-width="2.0"/>
<line x1="634.79" y1="385.9" x2="634.79" y2="398.9" stroke="#231f20" stroke-width="2.0"/>
<line x1="634.79" y1="765.25" x2="634.79" y2="778.25" stroke="#231f20" stroke-width="2.0"/>
<line x1="634.79" y1="1143.5" x2="634.79" y2="1150" stroke="#231f20" stroke-width="2.0"/>
<line x1="657.28" y1="385.9" x2="657.28" y2="398.9" stroke="#231f20" stroke-width="2.0"/>
<line x1="657.28" y1="765.25" x2="657.28" y2="778.25" stroke="#231f20" stroke-width="2.0"/>
<line x1="657.28" y1="1143.5" x2="657.28" y2="1150" stroke="#231f20" stroke-width="2.0"/>
<line x1="679.77" y1="381.1" x2="679.77" y2="403.7" stroke="#231f20" stroke-width="2.0"/>
<line x1="679.77" y1="760.45" x2="679.77" y2="783.05" stroke="#231f20" stroke-width="2.0"/>
<line x1="679.77" y1="1138.7" x2="679.77" y2="1150" stroke="#231f20" stroke-width="2.0"/>
<line x1="702.25" y1="385.9" x2="702.25" y2="398.9" stroke="#231f20" stroke-width="2.0"/>
<line x1="702.25" y1="765.25" x2="702.25" y2="778.25" stroke="#231f20" stroke-width="2.0"/>
<line x1="702.25" y1="1143.5" x2="702.25" y2="1150" stroke="#231f20" stroke-width="2.0"/>
<line x1="724.74" y1="385.9" x2="724.74" y2="398.9" stroke="#231f20" stroke-width="2.0"/>
<line x1="724.74" y1="765.25" x2="724.74" y2="778.25" stroke="#231f20" stroke-width="2.0"/>
<line x1="724.74" y1="1143.5" x2="724.74" y2="1150" stroke="#231f20" stroke-width="2.0"/>
<line x1="747.23" y1="385.9" x2="747.23" y2="398.9" stroke="#231f20" stroke-width="2.0"/>
<line x1="747.23" y1="765.25" x2="747.23" y2="778.25" stroke="#231f20" stroke-width="2.0"/>
<line x1="747.23" y1="1143.5" x2="747.23" y2="1150" stroke="#231f20" stroke-width="2.0"/>
<line x1="769.71" y1="385.9" x2="769.71" y2="398.9" stroke="#231f20" stroke-width="2.0"/>
<line x1="769.71" y1="765.25" x2="769.71" y2="778.25" stroke="#231f20" stroke-width="2.0"/>
<line x1="769.71" y1="1143.5" x2="769.71" y2="1150" stroke="#231f20" stroke-width="2.0"/>
<line x1="117.6" y1="354.34" x2="124.1" y2="354.34" stroke="#231f20" stroke-width="2.0"/>
<line x1="785.7" y1="354.34" x2="792.2" y2="354.34" stroke="#231f20" stroke-width="2.0"/>
<line x1="117.6" y1="332.08" x2="124.1" y2="332.08" stroke="#231f20" stroke-width="2.0"/>
<line x1="785.7" y1="332.08" x2="792.2" y2="332.08" stroke="#231f20" stroke-width="2.0"/>
<line x1="117.6" y1="316.28" x2="124.1" y2="316.28" stroke="#231f20" stroke-width="2.0"/>
<line x1="785.7" y1="316.28" x2="792.2" y2="316.28" stroke="#231f20" stroke-width="2.0"/>
<line x1="117.6" y1="304.03" x2="124.1" y2="304.03" stroke="#231f20" stroke-width="2.0"/>
<line x1="785.7" y1="304.03" x2="792.2" y2="304.03" stroke="#231f20" stroke-width="2.0"/>
<line x1="117.6" y1="294.02" x2="124.1" y2="294.02" stroke="#231f20" stroke-width="2.0"/>
<line x1="785.7" y1="294.02" x2="792.2" y2="294.02" stroke="#231f20" stroke-width="2.0"/>
<line x1="117.6" y1="285.55" x2="124.1" y2="285.55" stroke="#231f20" stroke-width="2.0"/>
<line x1="785.7" y1="285.55" x2="792.2" y2="285.55" stroke="#231f20" stroke-width="2.0"/>
<line x1="117.6" y1="278.22" x2="124.1" y2="278.22" stroke="#231f20" stroke-width="2.0"/>
<line x1="785.7" y1="278.22" x2="792.2" y2="278.22" stroke="#231f20" stroke-width="2.0"/>
<line x1="117.6" y1="271.75" x2="124.1" y2="271.75" stroke="#231f20" stroke-width="2.0"/>
<line x1="785.7" y1="271.75" x2="792.2" y2="271.75" stroke="#231f20" stroke-width="2.0"/>
<line x1="117.6" y1="265.97" x2="129.5" y2="265.97" stroke="#231f20" stroke-width="2.0"/>
<line x1="780.3" y1="265.97" x2="792.2" y2="265.97" stroke="#231f20" stroke-width="2.0"/>
<line x1="117.6" y1="227.91" x2="124.1" y2="227.91" stroke="#231f20" stroke-width="2.0"/>
<line x1="785.7" y1="227.91" x2="792.2" y2="227.91" stroke="#231f20" stroke-width="2.0"/>
<line x1="117.6" y1="205.64" x2="124.1" y2="205.64" stroke="#231f20" stroke-width="2.0"/>
<line x1="117.6" y1="189.85" x2="124.1" y2="189.85" stroke="#231f20" stroke-width="2.0"/>
<line x1="117.6" y1="177.59" x2="124.1" y2="177.59" stroke="#231f20" stroke-width="2.0"/>
<line x1="117.6" y1="167.58" x2="124.1" y2="167.58" stroke="#231f20" stroke-width="2.0"/>
<line x1="117.6" y1="159.12" x2="124.1" y2="159.12" stroke="#231f20" stroke-width="2.0"/>
<line x1="117.6" y1="151.79" x2="124.1" y2="151.79" stroke="#231f20" stroke-width="2.0"/>
<line x1="117.6" y1="145.32" x2="124.1" y2="145.32" stroke="#231f20" stroke-width="2.0"/>
<line x1="117.6" y1="139.53" x2="129.5" y2="139.53" stroke="#231f20" stroke-width="2.0"/>
<line x1="117.6" y1="101.47" x2="124.1" y2="101.47" stroke="#231f20" stroke-width="2.0"/>
<line x1="117.6" y1="79.21" x2="124.1" y2="79.21" stroke="#231f20" stroke-width="2.0"/>
<line x1="117.6" y1="63.41" x2="124.1" y2="63.41" stroke="#231f20" stroke-width="2.0"/>
<line x1="117.6" y1="51.16" x2="124.1" y2="51.16" stroke="#231f20" stroke-width="2.0"/>
<line x1="117.6" y1="41.15" x2="124.1" y2="41.15" stroke="#231f20" stroke-width="2.0"/>
<line x1="117.6" y1="32.68" x2="124.1" y2="32.68" stroke="#231f20" stroke-width="2.0"/>
<line x1="117.6" y1="25.35" x2="124.1" y2="25.35" stroke="#231f20" stroke-width="2.0"/>
<line x1="117.6" y1="18.89" x2="124.1" y2="18.89" stroke="#231f20" stroke-width="2.0"/>
<line x1="117.6" y1="741.4" x2="124.1" y2="741.4" stroke="#231f20" stroke-width="2.0"/>
<line x1="785.7" y1="741.4" x2="792.2" y2="741.4" stroke="#231f20" stroke-width="2.0"/>
<line x1="117.6" y1="711.05" x2="124.1" y2="711.05" stroke="#231f20" stroke-width="2.0"/>
<line x1="785.7" y1="711.05" x2="792.2" y2="711.05" stroke="#231f20" stroke-width="2.0"/>
<line x1="117.6" y1="680.71" x2="124.1" y2="680.71" stroke="#231f20" stroke-width="2.0"/>
<line x1="785.7" y1="680.71" x2="792.2" y2="680.71" stroke="#231f20" stroke-width="2.0"/>
<line x1="117.6" y1="650.36" x2="124.1" y2="650.36" stroke="#231f20" stroke-width="2.0"/>
<line x1="785.7" y1="650.36" x2="792.2" y2="650.36" stroke="#231f20" stroke-width="2.0"/>
<line x1="117.6" y1="620.01" x2="129.5" y2="620.01" stroke="#231f20" stroke-width="2.0"/>
<line x1="780.3" y1="620.01" x2="792.2" y2="620.01" stroke="#231f20" stroke-width="2.0"/>
<line x1="117.6" y1="589.66" x2="124.1" y2="589.66" stroke="#231f20" stroke-width="2.0"/>
<line x1="785.7" y1="589.66" x2="792.2" y2="589.66" stroke="#231f20" stroke-width="2.0"/>
<line x1="117.6" y1="559.31" x2="124.1" y2="559.31" stroke="#231f20" stroke-width="2.0"/>
<line x1="785.7" y1="559.31" x2="792.2" y2="559.31" stroke="#231f20" stroke-width="2.0"/>
<line x1="117.6" y1="528.97" x2="124.1" y2="528.97" stroke="#231f20" stroke-width="2.0"/>
<line x1="785.7" y1="528.97" x2="792.2" y2="528.97" stroke="#231f20" stroke-width="2.0"/>
<line x1="117.6" y1="498.62" x2="124.1" y2="498.62" stroke="#231f20" stroke-width="2.0"/>
<line x1="785.7" y1="498.62" x2="792.2" y2="498.62" stroke="#231f20" stroke-width="2.0"/>
<line x1="117.6" y1="468.27" x2="129.5" y2="468.27" stroke="#231f20" stroke-width="2.0"/>
<line x1="780.3" y1="468.27" x2="792.2" y2="468.27" stroke="#231f20" stroke-width="2.0"/>
<line x1="117.6" y1="437.92" x2="124.1" y2="437.92" stroke="#231f20" stroke-width="2.0"/>
<line x1="785.7" y1="437.92" x2="792.2" y2="437.92" stroke="#231f20" stroke-width="2.0"/>
<line x1="117.6" y1="407.57" x2="124.1" y2="407.57" stroke="#231f20" stroke-width="2.0"/>
<line x1="785.7" y1="407.57" x2="792.2" y2="407.57" stroke="#231f20" stroke-width="2.0"/>
<line x1="117.6" y1="1124.78" x2="124.1" y2="1124.78" stroke="#231f20" stroke-width="2.0"/>
<line x1="785.7" y1="1124.78" x2="792.2" y2="1124.78" stroke="#231f20" stroke-width="2.0"/>
<line x1="117.6" y1="1099.57" x2="124.1" y2="1099.57" stroke="#231f20" stroke-width="2.0"/>
<line x1="785.7" y1="1099.57" x2="792.2" y2="1099.57" stroke="#231f20" stroke-width="2.0"/>
<line x1="117.6" y1="1074.35" x2="124.1" y2="1074.35" stroke="#231f20" stroke-width="2.0"/>
<line x1="785.7" y1="1074.35" x2="792.2" y2="1074.35" stroke="#231f20" stroke-width="2.0"/>
<line x1="117.6" y1="1049.13" x2="124.1" y2="1049.13" stroke="#231f20" stroke-width="2.0"/>
<line x1="785.7" y1="1049.13" x2="792.2" y2="1049.13" stroke="#231f20" stroke-width="2.0"/>
<line x1="117.6" y1="1023.92" x2="129.5" y2="1023.92" stroke="#231f20" stroke-width="2.0"/>
<line x1="780.3" y1="1023.92" x2="792.2" y2="1023.92" stroke="#231f20" stroke-width="2.0"/>
<line x1="117.6" y1="998.7" x2="124.1" y2="998.7" stroke="#231f20" stroke-width="2.0"/>
<line x1="785.7" y1="998.7" x2="792.2" y2="998.7" stroke="#231f20" stroke-width="2.0"/>
<line x1="117.6" y1="973.48" x2="124.1" y2="973.48" stroke="#231f20" stroke-width="2.0"/>
<line x1="785.7" y1="973.48" x2="792.2" y2="973.48" stroke="#231f20" stroke-width="2.0"/>
<line x1="117.6" y1="948.27" x2="124.1" y2="948.27" stroke="#231f20" stroke-width="2.0"/>
<line x1="785.7" y1="948.27" x2="792.2" y2="948.27" stroke="#231f20" stroke-width="2.0"/>
<line x1="117.6" y1="923.05" x2="124.1" y2="923.05" stroke="#231f20" stroke-width="2.0"/>
<line x1="785.7" y1="923.05" x2="792.2" y2="923.05" stroke="#231f20" stroke-width="2.0"/>
<line x1="117.6" y1="897.83" x2="129.5" y2="897.83" stroke="#231f20" stroke-width="2.0"/>
<line x1="780.3" y1="897.83" x2="792.2" y2="897.83" stroke="#231f20" stroke-width="2.0"/>
<line x1="117.6" y1="872.62" x2="124.1" y2="872.62" stroke="#231f20" stroke-width="2.0"/>
<line x1="785.7" y1="872.62" x2="792.2" y2="872.62" stroke="#231f20" stroke-width="2.0"/>
<line x1="117.6" y1="847.4" x2="124.1" y2="847.4" stroke="#231f20" stroke-width="2.0"/>
<line x1="785.7" y1="847.4" x2="792.2" y2="847.4" stroke="#231f20" stroke-width="2.0"/>
<line x1="117.6" y1="822.18" x2="124.1" y2="822.18" stroke="#231f20" stroke-width="2.0"/>
<line x1="785.7" y1="822.18" x2="792.2" y2="822.18" stroke="#231f20" stroke-width="2.0"/>
<line x1="117.6" y1="796.97" x2="124.1" y2="796.97" stroke="#231f20" stroke-width="2.0"/>
<line x1="785.7" y1="796.97" x2="792.2" y2="796.97" stroke="#231f20" stroke-width="2.0"/>
<line x1="533.29" y1="216" x2="533.29" y2="222" stroke="#231f20" stroke-width="2.0"/>
<line x1="533.29" y1="13.1" x2="533.29" y2="19.1" stroke="#231f20" stroke-width="2.0"/>
<line x1="544.08" y1="216" x2="544.08" y2="222" stroke="#231f20" stroke-width="2.0"/>
<line x1="544.08" y1="13.1" x2="544.08" y2="19.1" stroke="#231f20" stroke-width="2.0"/>
<line x1="554.86" y1="216" x2="554.86" y2="222" stroke="#231f20" stroke-width="2.0"/>
<line x1="554.86" y1="13.1" x2="554.86" y2="19.1" stroke="#231f20" stroke-width="2.0"/>
<line x1="565.65" y1="216" x2="565.65" y2="222" stroke="#231f20" stroke-width="2.0"/>
<line x1="565.65" y1="13.1" x2="565.65" y2="19.1" stroke="#231f20" stroke-width="2.0"/>
<line x1="576.44" y1="210.7" x2="576.44" y2="222" stroke="#231f20" stroke-width="2.0"/>
<line x1="576.44" y1="13.1" x2="576.44" y2="24.4" stroke="#231f20" stroke-width="2.0"/>
<line x1="587.23" y1="216" x2="587.23" y2="222" stroke="#231f20" stroke-width="2.0"/>
<line x1="587.23" y1="13.1" x2="587.23" y2="19.1" stroke="#231f20" stroke-width="2.0"/>
<line x1="598.02" y1="216" x2="598.02" y2="222" stroke="#231f20" stroke-width="2.0"/>
<line x1="598.02" y1="13.1" x2="598.02" y2="19.1" stroke="#231f20" stroke-width="2.0"/>
<line x1="608.8" y1="216" x2="608.8" y2="222" stroke="#231f20" stroke-width="2.0"/>
<line x1="608.8" y1="13.1" x2="608.8" y2="19.1" stroke="#231f20" stroke-width="2.0"/>
<line x1="619.59" y1="216" x2="619.59" y2="222" stroke="#231f20" stroke-width="2.0"/>
<line x1="619.59" y1="13.1" x2="619.59" y2="19.1" stroke="#231f20" stroke-width="2.0"/>
<line x1="630.38" y1="210.7" x2="630.38" y2="222" stroke="#231f20" stroke-width="2.0"/>
<line x1="630.38" y1="13.1" x2="630.38" y2="24.4" stroke="#231f20" stroke-width="2.0"/>
<line x1="641.17" y1="216" x2="641.17" y2="222" stroke="#231f20" stroke-width="2.0"/>
<line x1="641.17" y1="13.1" x2="641.17" y2="19.1" stroke="#231f20" stroke-width="2.0"/>
<line x1="651.96" y1="216" x2="651.96" y2="222" stroke="#231f20" stroke-width="2.0"/>
<line x1="651.96" y1="13.1" x2="651.96" y2="19.1" stroke="#231f20" stroke-width="2.0"/>
<line x1="662.74" y1="216" x2="662.74" y2="222" stroke="#231f20" stroke-width="2.0"/>
<line x1="662.74" y1="13.1" x2="662.74" y2="19.1" stroke="#231f20" stroke-width="2.0"/>
<line x1="673.53" y1="216" x2="673.53" y2="222" stroke="#231f20" stroke-width="2.0"/>
<line x1="673.53" y1="13.1" x2="673.53" y2="19.1" stroke="#231f20" stroke-width="2.0"/>
<line x1="684.32" y1="210.7" x2="684.32" y2="222" stroke="#231f20" stroke-width="2.0"/>
<line x1="684.32" y1="13.1" x2="684.32" y2="24.4" stroke="#231f20" stroke-width="2.0"/>
<line x1="695.11" y1="216" x2="695.11" y2="222" stroke="#231f20" stroke-width="2.0"/>
<line x1="695.11" y1="13.1" x2="695.11" y2="19.1" stroke="#231f20" stroke-width="2.0"/>
<line x1="705.9" y1="216" x2="705.9" y2="222" stroke="#231f20" stroke-width="2.0"/>
<line x1="705.9" y1="13.1" x2="705.9" y2="19.1" stroke="#231f20" stroke-width="2.0"/>
<line x1="716.68" y1="216" x2="716.68" y2="222" stroke="#231f20" stroke-width="2.0"/>
<line x1="716.68" y1="13.1" x2="716.68" y2="19.1" stroke="#231f20" stroke-width="2.0"/>
<line x1="727.47" y1="216" x2="727.47" y2="222" stroke="#231f20" stroke-width="2.0"/>
<line x1="727.47" y1="13.1" x2="727.47" y2="19.1" stroke="#231f20" stroke-width="2.0"/>
<line x1="738.26" y1="210.7" x2="738.26" y2="222" stroke="#231f20" stroke-width="2.0"/>
<line x1="738.26" y1="13.1" x2="738.26" y2="24.4" stroke="#231f20" stroke-width="2.0"/>
<line x1="749.05" y1="216" x2="749.05" y2="222" stroke="#231f20" stroke-width="2.0"/>
<line x1="749.05" y1="13.1" x2="749.05" y2="19.1" stroke="#231f20" stroke-width="2.0"/>
<line x1="759.84" y1="216" x2="759.84" y2="222" stroke="#231f20" stroke-width="2.0"/>
<line x1="759.84" y1="13.1" x2="759.84" y2="19.1" stroke="#231f20" stroke-width="2.0"/>
<line x1="770.62" y1="216" x2="770.62" y2="222" stroke="#231f20" stroke-width="2.0"/>
<line x1="770.62" y1="13.1" x2="770.62" y2="19.1" stroke="#231f20" stroke-width="2.0"/>
<line x1="781.41" y1="216" x2="781.41" y2="222" stroke="#231f20" stroke-width="2.0"/>
<line x1="781.41" y1="13.1" x2="781.41" y2="19.1" stroke="#231f20" stroke-width="2.0"/>
<line x1="522.5" y1="180.22" x2="528.5" y2="180.22" stroke="#231f20" stroke-width="2.0"/>
<line x1="786.2" y1="180.22" x2="792.2" y2="180.22" stroke="#231f20" stroke-width="2.0"/>
<line x1="522.5" y1="138.44" x2="533.8" y2="138.44" stroke="#231f20" stroke-width="2.0"/>
<line x1="780.9" y1="138.44" x2="792.2" y2="138.44" stroke="#231f20" stroke-width="2.0"/>
<line x1="522.5" y1="96.66" x2="528.5" y2="96.66" stroke="#231f20" stroke-width="2.0"/>
<line x1="786.2" y1="96.66" x2="792.2" y2="96.66" stroke="#231f20" stroke-width="2.0"/>
<line x1="522.5" y1="54.88" x2="533.8" y2="54.88" stroke="#231f20" stroke-width="2.0"/>
<line x1="780.9" y1="54.88" x2="792.2" y2="54.88" stroke="#231f20" stroke-width="2.0"/>
<text transform="translate(103.4,23) scale(1,1.04)" font-size="32.6" text-anchor="end">1000</text>
<text transform="translate(103.4,149.33) scale(1,1.04)" font-size="32.6" text-anchor="end">100</text>
<text transform="translate(103.4,275.77) scale(1,1.04)" font-size="32.6" text-anchor="end">10</text>
<text transform="translate(103.4,402.2) scale(1,1.04)" font-size="32.6" text-anchor="end">1</text>
<text transform="translate(103.4,478.07) scale(1,1.04)" font-size="32.6" text-anchor="end">2</text>
<text transform="translate(103.4,629.81) scale(1,1.04)" font-size="32.6" text-anchor="end">1</text>
<text transform="translate(103.4,781.55) scale(1,1.04)" font-size="32.6" text-anchor="end">0</text>
<text transform="translate(103.4,907.63) scale(1,1.04)" font-size="32.6" text-anchor="end">3.0</text>
<text transform="translate(103.4,1033.72) scale(1,1.04)" font-size="32.6" text-anchor="end">2.5</text>
<text transform="translate(103.4,1159.8) scale(1,1.04)" font-size="32.6" text-anchor="end">2.0</text>
<text transform="translate(117.6,1189) scale(1,1.04)" font-size="32.6" text-anchor="middle">0</text>
<text transform="translate(230.03,1189) scale(1,1.04)" font-size="32.6" text-anchor="middle">1</text>
<text transform="translate(342.47,1189) scale(1,1.04)" font-size="32.6" text-anchor="middle">2</text>
<text transform="translate(454.9,1189) scale(1,1.04)" font-size="32.6" text-anchor="middle">3</text>
<text transform="translate(567.33,1189) scale(1,1.04)" font-size="32.6" text-anchor="middle">4</text>
<text transform="translate(679.77,1189) scale(1,1.04)" font-size="32.6" text-anchor="middle">5</text>
<text transform="translate(792.2,1189) scale(1,1.04)" font-size="32.6" text-anchor="middle">6</text>
<text transform="translate(522.5,257) scale(1,1.04)" font-size="27" text-anchor="middle">0</text>
<text transform="translate(576.44,257) scale(1,1.04)" font-size="27" text-anchor="middle">10</text>
<text transform="translate(630.38,257) scale(1,1.04)" font-size="27" text-anchor="middle">20</text>
<text transform="translate(684.32,257) scale(1,1.04)" font-size="27" text-anchor="middle">30</text>
<text transform="translate(738.26,257) scale(1,1.04)" font-size="27" text-anchor="middle">40</text>
<text transform="translate(508.7,231.1) scale(1,1.04)" font-size="27" text-anchor="end">0</text>
<text transform="translate(508.7,147.54) scale(1,1.04)" font-size="27" text-anchor="end">10</text>
<text transform="translate(508.7,63.98) scale(1,1.04)" font-size="27" text-anchor="end">20</text>
<text transform="translate(178,70) scale(1,1.04)" font-size="32.8" text-anchor="start">(a)</text>
<text transform="translate(546.8,58.1) scale(1,1.04)" font-size="32.8" text-anchor="start">(b)</text>
<text transform="translate(178.6,449.2) scale(1,1.04)" font-size="32.8" text-anchor="start">(c)</text>
<text transform="translate(178.4,1105.3) scale(1,1.04)" font-size="32.8" text-anchor="start">(d)</text>
<text transform="translate(630.3,195.3) scale(1,1.04)" font-size="26.8" text-anchor="start"><tspan font-style="italic">P</tspan> = 2.7 GPa</text>
<text transform="translate(641.3,837) scale(1,1.04)" font-size="32.8" text-anchor="start"><tspan font-style="italic">P</tspan><tspan font-size="21.5" dy="8.2" dx="-1">CDW</tspan></text>
<text transform="translate(455.8,1243.6) scale(1,1.04)" font-size="35.5" text-anchor="middle"><tspan font-style="italic">P</tspan> (GPa)</text>
<text transform="translate(658.1,290.5) scale(1,1.04)" font-size="32.6" text-anchor="middle"><tspan font-style="italic">T</tspan><tspan dx="-2.5"> (K)</tspan></text>
<text transform="translate(33.3,302.3) rotate(-90) scale(1,1.04)" font-size="36.3" text-anchor="start"><tspan font-family="'Liberation Serif', 'DejaVu Serif', serif" font-size="40">ρ</tspan><tspan font-size="24" dy="8.8">r</tspan></text>
<text transform="translate(33.3,103.9) rotate(-90) scale(1,1.04)" font-size="36.3" text-anchor="end">(10<tspan font-size="23" dy="-14.8">-8</tspan><tspan dy="14.8"> <tspan font-family="'Liberation Serif', 'DejaVu Serif', serif">Ω</tspan> m)</tspan></text>
<text transform="translate(48,580.1) rotate(-90) scale(1,1.04)" font-size="36.3" text-anchor="middle"><tspan font-style="italic">A</tspan><tspan dx="-3.3"> (10</tspan><tspan font-size="23" dy="-14.8">-11</tspan><tspan dy="14.8"> <tspan font-family="'Liberation Serif', 'DejaVu Serif', serif">Ω</tspan> m K</tspan><tspan font-size="23" dy="-14.8">-n</tspan><tspan dy="14.8">)</tspan></text>
<text transform="translate(44,960) rotate(-90) scale(1,1.04)" font-size="36.3" text-anchor="middle"><tspan font-style="italic">n</tspan></text>
<text transform="translate(465.6,204.9) rotate(-90) scale(1,1.04)" font-size="33.2" text-anchor="start"><tspan font-family="'Liberation Serif', 'DejaVu Serif', serif" font-size="37">ρ</tspan></text>
<text transform="translate(465.6,30.7) rotate(-90) scale(1,1.04)" font-size="33.2" text-anchor="end">(10<tspan font-size="21.6" dy="-12.3">-8</tspan><tspan dy="12.3"> <tspan font-family="'Liberation Serif', 'DejaVu Serif', serif">Ω</tspan> m)</tspan></text>
</svg>
</body>
</html>
